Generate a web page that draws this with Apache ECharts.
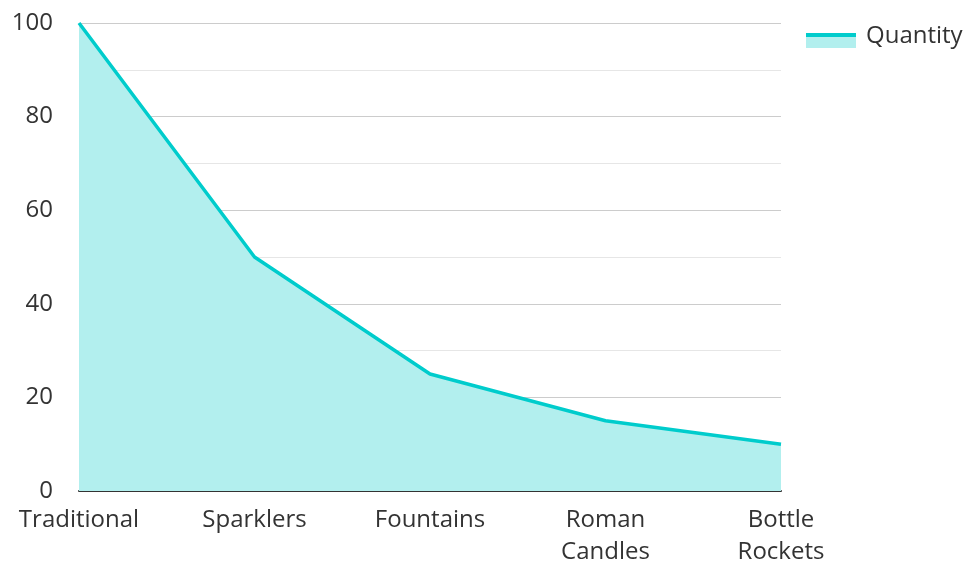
<!DOCTYPE html>
<html>
<head>
<meta charset="utf-8">
<script src="https://cdn.jsdelivr.net/npm/echarts@6/dist/echarts.min.js"></script>
<style>
  html, body { margin: 0; padding: 0; background: #fff; }
  #chart { width: 970px; height: 563px; }
</style>
</head>
<body>
<div id="chart"></div>
<script>
const categories = ['Traditional', 'Sparklers', 'Fountains', 'Roman\nCandles', 'Bottle\nRockets'];
const quantity = [100, 50, 25, 15, 10];
const seriesName = 'Quantity';

const lineColor = '#00cccc';
const fillColor = '#b2efee';
const fontFamily = '"Open Sans", "Noto Sans", sans-serif';

const chart = echarts.init(document.getElementById('chart'));
chart.setOption({
  animation: false,
  textStyle: { fontFamily: fontFamily },
  grid: { left: 79, right: 189, top: 23, bottom: 72, containLabel: false, outerBoundsMode: 'none' },
  // legend entry: line swatch over a filled band, then the series name
  graphic: [
    { type: 'rect', shape: { x: 806, y: 36, width: 50, height: 12 }, style: { fill: fillColor } },
    { type: 'rect', shape: { x: 806, y: 33, width: 50, height: 4 }, style: { fill: lineColor } },
    {
      type: 'text', x: 866, y: 36,
      style: { text: seriesName, fill: '#333', fontSize: 24, fontFamily: fontFamily, verticalAlign: 'middle', align: 'left' }
    }
  ],
  xAxis: {
    type: 'category',
    boundaryGap: false,
    data: categories,
    axisLine: { show: true, lineStyle: { color: '#333', width: 2 } },
    axisTick: { show: false },
    axisLabel: { color: '#333', fontSize: 24, margin: 13, lineHeight: 32, interval: 0 },
    splitLine: { show: false }
  },
  yAxis: {
    type: 'value',
    min: 0, max: 100, interval: 20,
    axisLine: { show: false },
    axisTick: { show: false },
    axisLabel: { color: '#333', fontSize: 24, margin: 26 },
    splitLine: { show: true, lineStyle: { color: '#cccccc', width: 1 } },
    minorTick: { show: false, splitNumber: 2 },
    minorSplitLine: { show: true, lineStyle: { color: '#e6e6e6', width: 1 } }
  },
  series: [{
    name: seriesName,
    type: 'line',
    data: quantity,
    symbol: 'none',
    lineStyle: { color: lineColor, width: 3.5 },
    itemStyle: { color: lineColor },
    areaStyle: { color: fillColor, opacity: 1 }
  }]
});
</script>
</body>
</html>
